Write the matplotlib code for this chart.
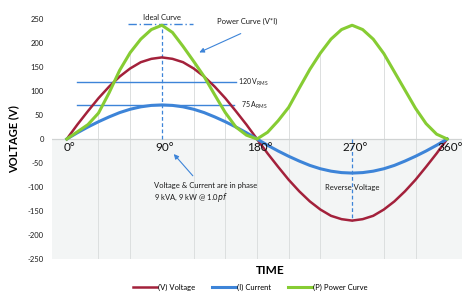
import matplotlib
matplotlib.use("Agg")

import matplotlib.pyplot as plt

plt.rcParams["font.family"] = ["Lato", "DejaVu Sans"]

# angle in degrees, one value every 10 degrees
angles = list(range(0, 361, 10))

voltage = [0, 30, 58, 85, 109, 130, 147, 160, 167, 170, 167, 160, 147, 130, 109, 85, 58, 30, 0,
           -30, -58, -85, -109, -130, -147, -160, -167, -170, -167, -160, -147, -130, -109, -85, -58, -30, 0]
current = [0, 13, 25, 36, 46, 55, 62, 67, 70, 71, 70, 67, 62, 55, 46, 36, 25, 13, 0,
           -13, -25, -36, -46, -55, -62, -67, -70, -71, -70, -67, -62, -55, -46, -36, -25, -13, 0]
power = [0, 15, 30, 54, 96, 143, 180, 208, 228, 237, 222, 193, 162, 130, 92, 55, 25, 8, 0,
         14, 38, 66, 106, 145, 179, 208, 228, 237, 228, 208, 178, 140, 102, 64, 32, 10, 0]

y_ticks = [250, 200, 150, 100, 50, 0, -50, -100, -150, -200, -250]
x_labels = ["0°", "90°", "180°", "270°", "360°"]
x_label_pos = [0, 90, 180, 270, 360]

v_rms = 118
i_rms = 71

RED = "#a3213b"
BLUE = "#3d84d8"
GREEN = "#86cc33"
ANNOT = "#3d84d8"
TXT = "#1a1a1a"

fig = plt.figure(figsize=(4.74, 2.97), dpi=100)
ax = fig.add_axes([52 / 474, 1 - 259 / 297, 410 / 474, 240 / 297])
ax.set_xlim(-14, 374)
ax.set_ylim(-250, 250)

# light grey lower half
ax.axhspan(-250, 0, color="#f3f5f5", zorder=0, lw=0)

# vertical grid lines, only up to the power curve
grid_idx = [i for i in range(3, 36, 3) if angles[i] not in (90, 270)]
for i in grid_idx:
    ax.plot([angles[i], angles[i]], [-250, power[i]], color="#dcdfdf", lw=0.7, zorder=1)
ax.axhline(0, color="#d0d3d3", lw=0.9, zorder=1)

# reference lines
ax.plot([58, 119], [240, 240], color=ANNOT, lw=1.0, ls=(0, (6, 2, 1, 2)), zorder=2)
ax.plot([90, 90], [0, 240], color=ANNOT, lw=0.9, ls=(0, (3, 2)), zorder=2)
ax.plot([270, 270], [0, -170], color=ANNOT, lw=0.9, ls=(0, (3, 2)), zorder=2)
ax.plot([9.5, 160], [v_rms, v_rms], color=ANNOT, lw=1.0, zorder=2)
ax.plot([9.5, 158], [i_rms, i_rms], color=ANNOT, lw=1.0, zorder=2)

ax.plot(angles, voltage, color=RED, lw=1.8, label="(V) Voltage", zorder=4, solid_joinstyle="round")
ax.plot(angles, current, color=BLUE, lw=2.2, label="(I) Current", zorder=4, solid_joinstyle="round")
ax.plot(angles, power, color=GREEN, lw=2.2, label="(P) Power Curve", zorder=5, solid_joinstyle="round")

# texts
ax.text(90, 254, "Ideal Curve", fontsize=5.5, ha="center", va="center", color=TXT)
ax.text(142, 246, "Power Curve (V*I)", fontsize=5.5, ha="left", va="center", color=TXT)
ax.annotate("", xy=(123, 178), xytext=(167, 222),
            arrowprops=dict(arrowstyle="-|>", color=ANNOT, lw=0.8, mutation_scale=7))
ax.text(162, v_rms, "120 V$_{\\mathregular{RMS}}$", fontsize=5, ha="left", va="center", color=TXT)
ax.text(165, i_rms, "75 A$_{\\mathregular{RMS}}$", fontsize=5, ha="left", va="center", color=TXT)
ax.text(83, -96, "Voltage & Current are in phase", fontsize=5.5, ha="left", va="center", color=TXT)
ax.text(83, -121, "9 kVA, 9 kW @ 1.0$\\it{pf}$", fontsize=5.5, ha="left", va="center", color=TXT)
ax.annotate("", xy=(99.5, -27), xytext=(121, -81),
            arrowprops=dict(arrowstyle="-|>", color=ANNOT, lw=0.8, mutation_scale=7))
ax.text(270, -102, "Reverse Voltage", fontsize=5.5, ha="center", va="center", color=TXT)

for pos, lab in zip(x_label_pos, x_labels):
    ax.text(pos + 3, -17, lab, fontsize=8.5, ha="center", va="center", color="#111111", zorder=6)

ax.set_xticks([])
ax.set_yticks(y_ticks)
ax.set_yticklabels([str(t) for t in y_ticks], fontsize=5.5, color=TXT)
ax.tick_params(axis="y", length=0, pad=6)
for s in ax.spines.values():
    s.set_visible(False)

ax.set_ylabel("VOLTAGE (V)", fontsize=8, fontweight="bold", labelpad=6)
fig.text(270 / 474, 1 - 270 / 297, "TIME", fontsize=8.5, fontweight="bold", ha="center", va="center")

fig.legend(loc="center", bbox_to_anchor=(250 / 474, 1 - 287 / 297), ncol=3, frameon=False,
           fontsize=5.5, handlelength=3.2, handletextpad=0.1, columnspacing=2.2)

fig.savefig("out.png", dpi=100)
